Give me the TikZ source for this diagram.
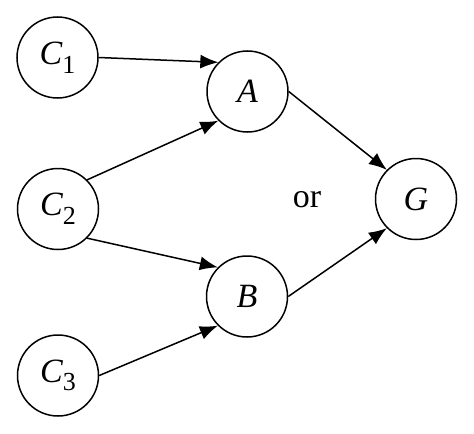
\documentclass[tikz,border=0pt]{standalone}
\usepackage{fontspec}
\setmainfont{Liberation Serif}
\usetikzlibrary{arrows.meta, positioning}

\newcommand{\varlbl}[2]{\textit{#1}\raisebox{-0.55ex}{\fontsize{13}{13}\selectfont #2}}

\begin{document}
\begin{tikzpicture}[
  x=0.5pt, y=-0.5pt,
  var/.style={circle, draw, line width=0.75pt, minimum size=40.5pt, inner sep=0pt, font=\fontsize{17}{17}\selectfont},
  arrow/.style={-{Latex[length=9pt, width=7pt]}, line width=0.75pt}
]
  \useasboundingbox (0,0) rectangle (474,433);

  \node[var] (c1) at (57.5,57.5) {\varlbl{C}{1}};
  \node[var] (c2) at (58,209) {\varlbl{C}{2}};
  \node[var] (c3) at (58,375.5) {\varlbl{C}{3}};
  \node[var] (a) at (247.5,91.5) {\textit{A}};
  \node[var] (b) at (247,296.5) {\textit{B}};
  \node[var] (g) at (416,199) {\textit{G}};
  \node[font=\fontsize{17}{17}\selectfont] (or) at (307,200) {or};

  \draw[arrow] (c1.east) -- (a.north west);
  \draw[arrow] (c2.north east) -- (a.south west);
  \draw[arrow] (c2.south east) -- (b.north west);
  \draw[arrow] (c3.east) -- (b.south west);
  \draw[arrow] (a.east) -- (g.north west);
  \draw[arrow] (b.east) -- (g.south west);
\end{tikzpicture}
\end{document}
